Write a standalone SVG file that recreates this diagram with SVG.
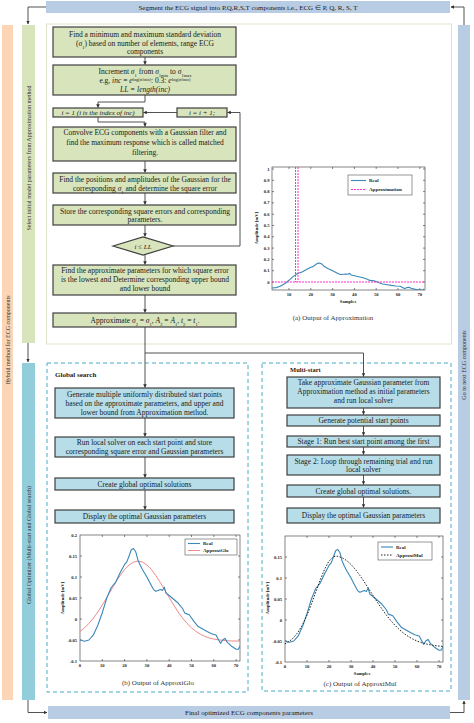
<svg xmlns="http://www.w3.org/2000/svg" width="474" height="723" viewBox="0 0 474 723">
<style>
.g{fill:#d7e4bc;stroke:#3f3f3f;stroke-width:1.2}
.b{fill:#b7dde8;stroke:#3f3f3f;stroke-width:1.2}
.t{font-family:"Liberation Serif",serif;font-size:7.5px;fill:#1a1a1a;text-anchor:middle}
.i{font-style:italic}
.c{fill:none;stroke:#404040;stroke-width:0.9}
.vt{font-family:"Liberation Serif",serif;font-size:6px;fill:#333;text-anchor:middle}
.ax{fill:none;stroke:#333;stroke-width:0.6}
.tk{font-family:"Liberation Serif",serif;font-size:4.6px;font-weight:bold;fill:#222}
.lg{font-family:"Liberation Serif",serif;font-size:5px;font-weight:bold;fill:#222}
.cap{font-family:"Liberation Serif",serif;font-size:7px;fill:#333;text-anchor:middle}
.real{fill:none;stroke:#3a87b8;stroke-width:1.1;stroke-linejoin:round}
.glo{fill:none;stroke:#f08a8a;stroke-width:1;stroke-linejoin:round}
.mul{fill:none;stroke:#222;stroke-width:1;stroke-dasharray:1.5 1.5}
.pk{fill:none;stroke:#ff2fc8;stroke-width:1;stroke-dasharray:2 1}
.dash{fill:none;stroke:#4bacc6;stroke-width:1;stroke-dasharray:4 3}
</style>
<defs>
<marker id="ar" viewBox="0 0 6 6" refX="5.5" refY="3" markerWidth="4" markerHeight="4" orient="auto"><path d="M0,0 L6,3 L0,6 z" fill="#333"/></marker>
<path id="realP" vector-effect="non-scaling-stroke" d="M0,50 L20,53 L40,50 L60,38 L80,15 L100,-15 L120,-50 L140,-75 L160,-88 L180,-110 L200,-130 L210,-136 L220,-150 L230,-165 L240,-168 L250,-160 L260,-140 L270,-128 L280,-118 L300,-100 L320,-80 L330,-70 L340,-66 L350,-68 L360,-70 L370,-68 L378,-76 L385,-62 L400,-56 L420,-47 L440,-38 L460,-25 L470,-14 L490,-10 L510,5 L530,18 L550,24 L570,30 L590,35 L610,38 L620,48 L630,58 L640,50 L650,46 L660,55 L680,65 L700,72 L710,72 L720,62"/>
<path id="gloP" vector-effect="non-scaling-stroke" d="M0,29.6 L20,21.1 L40,10.5 L60,-2.1 L80,-16.8 L100,-33.3 L120,-50.9 L140,-69.1 L160,-87 L180,-103.6 L200,-117.8 L220,-128.7 L240,-135.6 L260,-138 L280,-135.6 L300,-128.7 L320,-117.8 L340,-103.6 L360,-87 L380,-69.1 L400,-50.9 L420,-33.3 L440,-16.8 L460,-2.1 L480,10.5 L500,21.1 L520,29.6 L540,36.3 L560,41.3 L580,45.1 L600,47.7 L620,49.6 L640,50.8 L660,51.7 L680,52.2 L700,52.5 L720,52.7"/>
<path id="mulP" vector-effect="non-scaling-stroke" d="M0,56.8 L20,50.7 L40,41.6 L60,28.5 L80,10.9 L100,-11.4 L120,-37.8 L140,-66.6 L160,-95.4 L180,-121 L200,-140.3 L220,-150.7 L230,-152 L240,-151.6 L260,-148.2 L280,-141.6 L300,-132.2 L320,-120.3 L340,-106.3 L360,-91 L380,-74.8 L400,-58.4 L420,-42.2 L440,-26.7 L460,-12.2 L480,1 L500,12.7 L520,23 L540,31.8 L560,39.1 L580,45.2 L600,50 L620,53.9 L640,56.9 L660,59.1 L680,60.8 L700,62.1 L720,63"/>
<clipPath id="ca"><rect x="272" y="167" width="153" height="123"/></clipPath>
<clipPath id="cb"><rect x="80" y="535" width="160" height="126"/></clipPath>
<clipPath id="cc"><rect x="285" y="536" width="158" height="126"/></clipPath>
</defs>
<rect width="474" height="723" fill="#fff"/>

<!-- side bars -->
<g id="segment"><rect x="46" y="1" width="404" height="12" fill="#b8cce4"/><text class="t" x="248" y="9.8" style="font-size:7px">Segment the ECG signal into P,Q,R,S,T components  i.e., ECG ∈ P, Q, R, S, T</text></g>
<g id="hybrid"><rect x="2" y="25" width="11" height="675" fill="#fbd5b5"/><text class="vt" transform="translate(7.5,340) rotate(-90)" y="2">Hybrid method for ECG components</text></g>
<g id="select"><rect x="22" y="25" width="13" height="318" fill="#d7e4bc"/><text class="vt" transform="translate(28.5,158) rotate(-90)" y="2">Select initial model parameters from Approximation method</text></g>
<g id="globalopt"><rect x="22" y="363" width="13" height="337" fill="#92cddc"/><text class="vt" transform="translate(28.5,545) rotate(-90)" y="2">Global Optimizer (Multi-start and Global search)</text></g>
<g id="nextecg"><rect x="458" y="25" width="12" height="675" fill="#b8cce4"/><text class="vt" transform="translate(464,365) rotate(-90)" y="2">Go to next ECG components</text></g>
<g id="final"><rect x="48" y="706" width="402" height="13" fill="#b8cce4"/><text class="t" x="249" y="715.3" style="font-size:7px">Final optimized ECG components parameters</text></g>

<!-- containers -->
<rect x="46.5" y="24" width="405" height="320" fill="none" stroke="#dfe3c8" stroke-width="1"/>
<rect class="dash" x="47" y="363" width="201" height="329"/>
<rect class="dash" x="262" y="363" width="189" height="328"/>
<text x="55" y="377" font-family="Liberation Serif, serif" font-size="7" font-weight="bold" fill="#222">Global search</text>
<text x="290" y="372" font-family="Liberation Serif, serif" font-size="6.5" font-weight="bold" fill="#222">Multi-start</text>

<!-- connectors -->
<g id="connectors">
<path class="c" d="M46,7 H28 V24" marker-end="url(#ar)"/>
<path class="c" d="M28,343 V362" marker-end="url(#ar)"/>
<path class="c" d="M28,700 V712.5 H47" marker-end="url(#ar)"/>
<path class="c" d="M450,712.5 H464 V701" marker-end="url(#ar)"/>
<path class="c" d="M464,25 V7 H451" marker-end="url(#ar)"/>
<path class="c" d="M145,57 V64.5" marker-end="url(#ar)"/>
<path class="c" d="M145,95 V102 H98 V107.5" marker-end="url(#ar)"/>
<path class="c" d="M98,117 V122 H145 V126.5" marker-end="url(#ar)"/>
<path class="c" d="M177,112.5 H143.5" marker-end="url(#ar)"/>
<path class="c" d="M173,246 H240 V112.5 H227.5" marker-end="url(#ar)"/>
<path class="c" d="M145,161 V172.5" marker-end="url(#ar)"/>
<path class="c" d="M145,193 V204.5" marker-end="url(#ar)"/>
<path class="c" d="M145,225 V236.5" marker-end="url(#ar)"/>
<path class="c" d="M145,255 V264.5" marker-end="url(#ar)"/>
<path class="c" d="M145,295 V312.5" marker-end="url(#ar)"/>
<path class="c" d="M145,327 V387.5" marker-end="url(#ar)"/>
<path class="c" d="M145,353 H363.5 V376.5" marker-end="url(#ar)"/>
<path class="c" d="M145,418 V436.5" marker-end="url(#ar)"/>
<path class="c" d="M145,457 V477.5" marker-end="url(#ar)"/>
<path class="c" d="M145,490 V509.5" marker-end="url(#ar)"/>
<path class="c" d="M363.5,408 V414.5" marker-end="url(#ar)"/>
<path class="c" d="M363.5,426 V435.5" marker-end="url(#ar)"/>
<path class="c" d="M363.5,447 V454.5" marker-end="url(#ar)"/>
<path class="c" d="M363.5,475 V484.5" marker-end="url(#ar)"/>
<path class="c" d="M363.5,497 V507.5" marker-end="url(#ar)"/>
</g>

<!-- approximation flowchart -->
<g id="box1"><rect class="g" x="53" y="27" width="183" height="30"/>
<text class="t" x="145" y="37">Find a minimum and maximum standard deviation</text>
<text class="t" x="145" y="45.5">(<tspan class="i">σ</tspan><tspan font-size="4.5" baseline-shift="sub">1</tspan>) based on number of elements, range ECG</text>
<text class="t" x="145" y="54">components</text></g>
<g id="box2"><rect class="g" x="53" y="65" width="183" height="30"/>
<text class="t" x="145" y="74">Increment <tspan class="i">σ</tspan><tspan font-size="4.5" baseline-shift="sub">1</tspan> from <tspan class="i">σ</tspan><tspan font-size="4.5" baseline-shift="sub">1min</tspan> to <tspan class="i">σ</tspan><tspan font-size="4.5" baseline-shift="sub">1max</tspan></text>
<text class="t" x="145" y="83">e.g, <tspan class="i">inc</tspan> = <tspan class="i">e</tspan><tspan font-size="4.5" baseline-shift="super">log(σ<tspan font-size="3.5">1min</tspan>)</tspan>: 0.3: <tspan class="i">e</tspan><tspan font-size="4.5" baseline-shift="super">log(σ<tspan font-size="3.5">1max</tspan>)</tspan></text>
<text class="t i" x="145" y="92">LL = length(inc)</text></g>
<g id="box_i1"><rect class="g" x="53" y="108" width="90" height="9"/>
<text class="t i" x="98" y="115" style="font-size:7px">i = 1 (i is the index of inc)</text></g>
<g id="box_inc"><rect class="g" x="177" y="108" width="50" height="9"/>
<text class="t i" x="202" y="115" style="font-size:7px">i = i + 1;</text></g>
<g id="box3"><rect class="g" x="53" y="127" width="183" height="34"/>
<text class="t" x="145" y="135">Convolve ECG components with a Gaussian filter and</text>
<text class="t" x="145" y="145">find the maximum response which is called matched</text>
<text class="t" x="145" y="155">filtering.</text></g>
<g id="box4"><rect class="g" x="53" y="173" width="183" height="20"/>
<text class="t" x="145" y="182">Find the positions and amplitudes of the Gaussian for  the</text>
<text class="t" x="145" y="190.5">corresponding <tspan class="i">σ</tspan><tspan font-size="4.5" baseline-shift="sub">1</tspan> and determine  the square error</text></g>
<g id="box5"><rect class="g" x="53" y="205" width="183" height="20"/>
<text class="t" x="145" y="213.5">Store the corresponding  square errors and corresponding</text>
<text class="t" x="145" y="222">parameters.</text></g>
<g id="diamond"><path class="g" d="M113,246 L143,237 L173,246 L143,255 Z"/>
<text class="t i" x="143" y="248.5" style="font-size:7px">i ≤ LL</text></g>
<g id="box6"><rect class="g" x="53" y="265" width="183" height="30"/>
<text class="t" x="145" y="273">Find the approximate  parameters for which square error</text>
<text class="t" x="145" y="282">is the lowest and Determine corresponding upper bound</text>
<text class="t" x="145" y="291">and lower bound</text></g>
<g id="box7"><rect class="g" x="53" y="313" width="183" height="14"/>
<text class="t" x="145" y="322.5">Approximate <tspan class="i">σ</tspan><tspan font-size="4.5" baseline-shift="sub">2</tspan> = <tspan class="i">σ</tspan><tspan font-size="4.5" baseline-shift="sub">1</tspan>, <tspan class="i">A</tspan><tspan font-size="4.5" baseline-shift="sub">2</tspan> = <tspan class="i">A</tspan><tspan font-size="4.5" baseline-shift="sub">1</tspan>, <tspan class="i">t</tspan><tspan font-size="4.5" baseline-shift="sub">2</tspan> = <tspan class="i">t</tspan><tspan font-size="4.5" baseline-shift="sub">1</tspan>.</text></g>

<!-- global search -->
<g id="gs1"><rect class="b" x="55" y="388" width="179" height="30"/>
<text class="t" x="144.5" y="397">Generate multiple uniformly distributed  start points</text>
<text class="t" x="144.5" y="406">based on the approximate  parameters, and upper and</text>
<text class="t" x="144.5" y="415">lower bound from Approximation  method.</text></g>
<g id="gs2"><rect class="b" x="55" y="437" width="179" height="20"/>
<text class="t" x="144.5" y="445">Run local solver  on each start point  and store</text>
<text class="t" x="144.5" y="454">corresponding square error and  Gaussian parameters</text></g>
<g id="gs3"><rect class="b" x="55" y="478" width="179" height="12"/>
<text class="t" x="144.5" y="486.5">Create global optimal solutions</text></g>
<g id="gs4"><rect class="b" x="55" y="510" width="179" height="13"/>
<text class="t" x="144.5" y="519">Display the  optimal  Gaussian parameters</text></g>

<!-- multi-start -->
<g id="ms1"><rect class="b" x="287" y="377" width="153" height="31"/>
<text class="t" x="363.5" y="385">Take approximate  Gaussian parameter from</text>
<text class="t" x="363.5" y="394">Approximation method as initial parameters</text>
<text class="t" x="363.5" y="403">and run local solver</text></g>
<g id="ms2"><rect class="b" x="287" y="415" width="153" height="11"/>
<text class="t" x="363.5" y="423">Generate  potential  start points</text></g>
<g id="ms3"><rect class="b" x="287" y="436" width="153" height="11"/>
<text class="t" x="363.5" y="444">Stage 1: Run best start point among the first</text></g>
<g id="ms4"><rect class="b" x="287" y="455" width="153" height="20"/>
<text class="t" x="363.5" y="463.5">Stage 2: Loop through remaining  trial  and run</text>
<text class="t" x="363.5" y="472">local solver</text></g>
<g id="ms5"><rect class="b" x="287" y="485" width="153" height="12"/>
<text class="t" x="363.5" y="493.5">Create global optimal solutions.</text></g>
<g id="ms6"><rect class="b" x="287" y="508" width="153" height="15"/>
<text class="t" x="363.5" y="518">Display the  optimal  Gaussian parameters</text></g>

<!-- plot a -->
<g id="plotA">
<rect class="ax" x="272" y="167" width="153" height="123" fill="#fff"/>
<path class="ax" d="M272,169h2M272,180.3h2M272,191.6h2M272,202.9h2M272,214.2h2M272,225.5h2M272,236.8h2M272,248.1h2M272,259.4h2M272,270.7h2M272,282h2M425,169h-2M425,180.3h-2M425,191.6h-2M425,202.9h-2M425,214.2h-2M425,225.5h-2M425,236.8h-2M425,248.1h-2M425,259.4h-2M425,270.7h-2M425,282h-2M289,290v-2M310.8,290v-2M332.6,290v-2M354.4,290v-2M376.2,290v-2M398,290v-2M419.8,290v-2M289,167v2M310.8,167v2M332.6,167v2M354.4,167v2M376.2,167v2M398,167v2M419.8,167v2"/>
<g class="tk" text-anchor="end"><text x="269.5" y="170.5">1</text><text x="269.5" y="181.8">0.9</text><text x="269.5" y="193.1">0.8</text><text x="269.5" y="204.4">0.7</text><text x="269.5" y="215.7">0.6</text><text x="269.5" y="227">0.5</text><text x="269.5" y="238.3">0.4</text><text x="269.5" y="249.6">0.3</text><text x="269.5" y="260.9">0.2</text><text x="269.5" y="272.2">0.1</text><text x="269.5" y="283.5">0</text></g>
<g class="tk" text-anchor="middle"><text x="289" y="296">10</text><text x="310.8" y="296">20</text><text x="332.6" y="296">30</text><text x="354.4" y="296">40</text><text x="376.2" y="296">50</text><text x="398" y="296">60</text><text x="419.8" y="296">70</text></g>
<text class="tk" text-anchor="middle" transform="translate(258,228) rotate(-90)">Amplitude [mV]</text>
<text class="tk" text-anchor="middle" x="348" y="303">Samples</text>
<g clip-path="url(#ca)">
<use href="#realP" class="real" transform="translate(267.2,282) scale(0.218,0.113)"/>
<path class="pk" d="M272,282H425M295.5,167V282M298,167V282"/>
</g>
<rect x="348" y="175" width="64" height="20" fill="#fff" stroke="#333" stroke-width="0.5"/>
<path class="real" d="M351,180.5H366"/><text class="lg" x="369" y="182.3">Real</text>
<path class="pk" d="M351,189.5H366"/><text class="lg" x="369" y="191.3">Approximation</text>
<text class="cap" x="333" y="320">(a) Output of Approximation</text>
</g>

<!-- plot b -->
<g id="plotB">
<rect class="ax" x="80" y="535" width="160" height="126" fill="#fff"/>
<path class="ax" d="M80,556h2M80,577h2M80,598h2M80,619h2M80,640h2M240,556h-2M240,577h-2M240,598h-2M240,619h-2M240,640h-2M102.3,661v-2M124.6,661v-2M146.9,661v-2M169.2,661v-2M191.5,661v-2M213.8,661v-2M236.1,661v-2M102.3,535v2M124.6,535v2M146.9,535v2M169.2,535v2M191.5,535v2M213.8,535v2M236.1,535v2"/>
<g class="tk" text-anchor="end"><text x="77" y="536.5">0.2</text><text x="77" y="557.5">0.15</text><text x="77" y="578.5">0.1</text><text x="77" y="599.5">0.05</text><text x="77" y="620.5">0</text><text x="77" y="641.5">-0.05</text><text x="77" y="662.5">-0.1</text></g>
<g class="tk" text-anchor="middle"><text x="80" y="667">0</text><text x="102.3" y="667">10</text><text x="124.6" y="667">20</text><text x="146.9" y="667">30</text><text x="169.2" y="667">40</text><text x="191.5" y="667">50</text><text x="213.8" y="667">60</text><text x="236.1" y="667">70</text></g>
<text class="tk" text-anchor="middle" transform="translate(64,598) rotate(-90)">Amplitude [mV]</text>
<g clip-path="url(#cb)">
<use href="#gloP" class="glo" transform="translate(80,619) scale(0.223,0.42)"/>
<use href="#realP" class="real" transform="translate(80,619) scale(0.223,0.42)"/>
</g>
<rect x="185" y="539" width="52" height="16" fill="#fff" stroke="#333" stroke-width="0.5"/>
<path class="real" d="M188,543.5H200"/><text class="lg" x="203" y="545.3">Real</text>
<path class="glo" d="M188,550.5H200"/><text class="lg" x="203" y="552.3">ApproxiGlo</text>
<text class="cap" x="158" y="685">(b) Output of ApproxiGlo</text>
</g>

<!-- plot c -->
<g id="plotC">
<rect class="ax" x="285" y="536" width="158" height="126" fill="#fff"/>
<path class="ax" d="M285,557h2M285,578h2M285,599h2M285,620h2M285,641h2M443,557h-2M443,578h-2M443,599h-2M443,620h-2M443,641h-2M307,662v-2M329,662v-2M351,662v-2M373,662v-2M395,662v-2M417,662v-2M439,662v-2M307,536v2M329,536v2M351,536v2M373,536v2M395,536v2M417,536v2M439,536v2"/>
<g class="tk" text-anchor="end"><text x="282" y="558.5">0.15</text><text x="282" y="579.5">0.1</text><text x="282" y="600.5">0.05</text><text x="282" y="621.5">0</text><text x="282" y="642.5">-0.05</text><text x="282" y="663.5">-0.1</text></g>
<g class="tk" text-anchor="middle"><text x="285" y="668">0</text><text x="307" y="668">10</text><text x="329" y="668">20</text><text x="351" y="668">30</text><text x="373" y="668">40</text><text x="395" y="668">50</text><text x="417" y="668">60</text><text x="439" y="668">70</text></g>
<text class="tk" text-anchor="middle" transform="translate(269,598) rotate(-90)">Amplitude [mV]</text>
<text class="tk" text-anchor="middle" x="362" y="675">Samples</text>
<g clip-path="url(#cc)">
<use href="#realP" class="real" transform="translate(285,620) scale(0.22,0.42)"/>
<use href="#mulP" class="mul" transform="translate(285,620) scale(0.22,0.42)"/>
</g>
<rect x="378" y="542" width="54" height="18" fill="#fff" stroke="#333" stroke-width="0.5"/>
<path class="real" d="M381,547H393"/><text class="lg" x="396" y="548.8">Real</text>
<path class="mul" d="M381,555H393"/><text class="lg" x="396" y="556.8">ApproxiMul</text>
<text class="cap" x="360" y="686">(c) Output of ApproxiMul</text>
</g>
</svg>
